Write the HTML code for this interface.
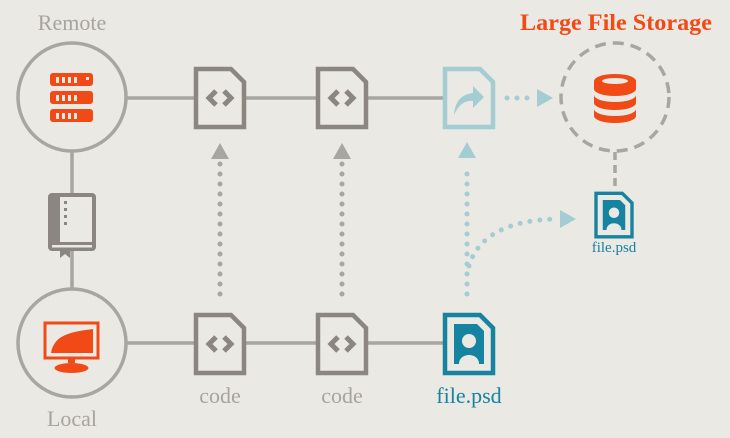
<!DOCTYPE html>
<html><head><style>
html,body{margin:0;padding:0;background:#ebe9e3;}
svg{display:block;}
text{font-family:"Liberation Serif",serif;}
</style></head><body>
<svg width="730" height="438" viewBox="0 0 730 438" xmlns="http://www.w3.org/2000/svg">
<defs>
<g id="doc">
<path d="M-24,-29 H11 L24,-16 V29 H-24 Z" fill="none" stroke-width="4.5" stroke-linejoin="miter"/>
</g>
<g id="code">
<use href="#doc" stroke="#8c8680"/>
<path d="M-4,-7 L-11,0 L-4,7 M4,-7 L11,0 L4,7" fill="none" stroke="#8c8680" stroke-width="5"/>
</g>
<g id="psd">
<use href="#doc" stroke="#1683a0"/>
<path d="M-15,-20 H8 L15,-13 V20 H-15Z" fill="#1683a0"/>
<circle cx="0" cy="-3" r="7" fill="#ebe9e3"/>
<path d="M-10,20 C-10,8 10,8 10,20Z" fill="#ebe9e3"/>
</g>
</defs>
<g stroke="#a8a6a1" stroke-width="3.5" fill="none">
<line x1="127" y1="98" x2="443" y2="98"/>
<line x1="127" y1="343" x2="443" y2="343"/>
<line x1="72" y1="152" x2="72" y2="289"/>
<circle cx="72" cy="97" r="54" fill="#ebe9e3"/>
<circle cx="72" cy="343" r="54" fill="#ebe9e3"/>
<circle cx="615" cy="97" r="54" stroke-dasharray="11 7"/>
<line x1="615" y1="152" x2="615" y2="190" stroke-dasharray="8 5"/>
</g>
<g fill="#f24a17">
<rect x="50" y="73" width="43" height="13" rx="3"/>
<rect x="50" y="91" width="43" height="13" rx="3"/>
<rect x="50" y="109" width="43" height="13" rx="3"/>
</g>
<g fill="#ebe9e3">
<rect x="56" y="77" width="3" height="6"/><rect x="62" y="77" width="3" height="6"/><rect x="68" y="77" width="3" height="6"/><rect x="74" y="77" width="3" height="6"/><rect x="86" y="77" width="3" height="3"/>
<rect x="56" y="95" width="3" height="6"/><rect x="62" y="95" width="3" height="6"/><rect x="68" y="95" width="3" height="6"/><rect x="74" y="95" width="3" height="6"/>
<rect x="56" y="113" width="3" height="6"/><rect x="62" y="113" width="3" height="6"/><rect x="68" y="113" width="3" height="6"/><rect x="74" y="113" width="3" height="6"/>
</g>
<rect x="45" y="323" width="53" height="35" fill="none" stroke="#f24a17" stroke-width="3"/>
<path d="M51,353 C54,335 70,332 93,329 V353 Z" fill="#f24a17"/>
<rect x="68" y="358" width="7" height="5" fill="#f24a17"/>
<ellipse cx="71.5" cy="368" rx="17" ry="5" fill="#f24a17"/>
<path d="M52,193 H92 a4,4 0 0 1 4,4 V247 a4,4 0 0 1 -4,4 H52 a4,4 0 0 1 -4,-4 V197 a4,4 0 0 1 4,-4Z" fill="#8c8680"/>
<rect x="60" y="197" width="32" height="45" fill="#ebe9e3"/>
<rect x="52" y="245" width="40" height="2.5" fill="#ebe9e3"/>
<path d="M60,251 V258 L65,254 L70,258 V251Z" fill="#8c8680"/>
<g fill="#8c8680"><rect x="64" y="201" width="3" height="3"/><rect x="64" y="208" width="3" height="3"/><rect x="64" y="215" width="3" height="3"/><rect x="64" y="222" width="3" height="3"/></g>
<g transform="translate(220,98)"><rect x="-24" y="-29" width="48" height="58" fill="#ebe9e3"/><use href="#code"/></g>
<g transform="translate(342,98)"><rect x="-24" y="-29" width="48" height="58" fill="#ebe9e3"/><use href="#code"/></g>
<g transform="translate(220,344)"><rect x="-24" y="-29" width="48" height="58" fill="#ebe9e3"/><use href="#code"/></g>
<g transform="translate(342,344)"><rect x="-24" y="-29" width="48" height="58" fill="#ebe9e3"/><use href="#code"/></g>
<g transform="translate(469,98)">
<rect x="-24" y="-29" width="48" height="58" fill="#ebe9e3"/>
<use href="#doc" stroke="#a3cdd3"/>
<path d="M-15,17 C-14,2 -6,-4 4,-5 V-12 L15,-1 L4,10 V3 C-5,2 -11,8 -15,17Z" fill="#a3cdd3"/>
</g>
<g transform="translate(469,344)">
<rect x="-24" y="-29" width="48" height="58" fill="#ebe9e3"/>
<use href="#psd"/>
</g>
<g transform="translate(614,215) scale(0.75)"><use href="#psd"/></g>
<g fill="#f24a17">
<path d="M594,81 a21,7 0 0 1 42,0 v8 a21,7 0 0 1 -42,0Z"/>
<path d="M594,95 a21,7 0 0 0 42,0 v8 a21,7 0 0 1 -42,0Z"/>
<path d="M594,109 a21,7 0 0 0 42,0 v7 a21,7 0 0 1 -42,0Z"/>
</g>
<ellipse cx="615" cy="81" rx="13" ry="3" fill="#ebe9e3"/>
<g stroke="#a8a6a1" stroke-width="5" stroke-linecap="round" stroke-dasharray="0 10" fill="none">
<line x1="220" y1="294" x2="220" y2="160"/>
<line x1="342" y1="294" x2="342" y2="160"/>
</g>
<g fill="#a8a6a1">
<path d="M211,159 L220,143 L229,159Z"/><path d="M333,159 L342,143 L351,159Z"/>
</g>
<g stroke="#a3cdd3" stroke-width="5" stroke-linecap="round" stroke-dasharray="0 10" fill="none">
<line x1="467" y1="294" x2="467" y2="164"/>
<path d="M469,266 C478,235 510,220 556,219"/>
<line x1="507" y1="98" x2="528" y2="98"/>
</g>
<g fill="#a3cdd3">
<path d="M458,158 L467,142 L476,158Z"/>
<path d="M560,210 L576,219 L560,228Z"/>
<path d="M537,89 L553,98 L537,107Z"/>
</g>
<g font-size="22" fill="#a7a39d" text-anchor="middle">
<text x="72" y="30">Remote</text>
<text x="72" y="426">Local</text>
<text x="220" y="403">code</text>
<text x="342" y="403">code</text>
</g>
<text x="469" y="403" font-size="22" fill="#1683a0" text-anchor="middle">file.psd</text>
<text x="614" y="252" font-size="15" fill="#1683a0" text-anchor="middle">file.psd</text>
<text x="616" y="30" font-size="23" font-weight="bold" fill="#f24a17" text-anchor="middle" textLength="192" lengthAdjust="spacingAndGlyphs">Large File Storage</text>
</svg>
</body></html>
